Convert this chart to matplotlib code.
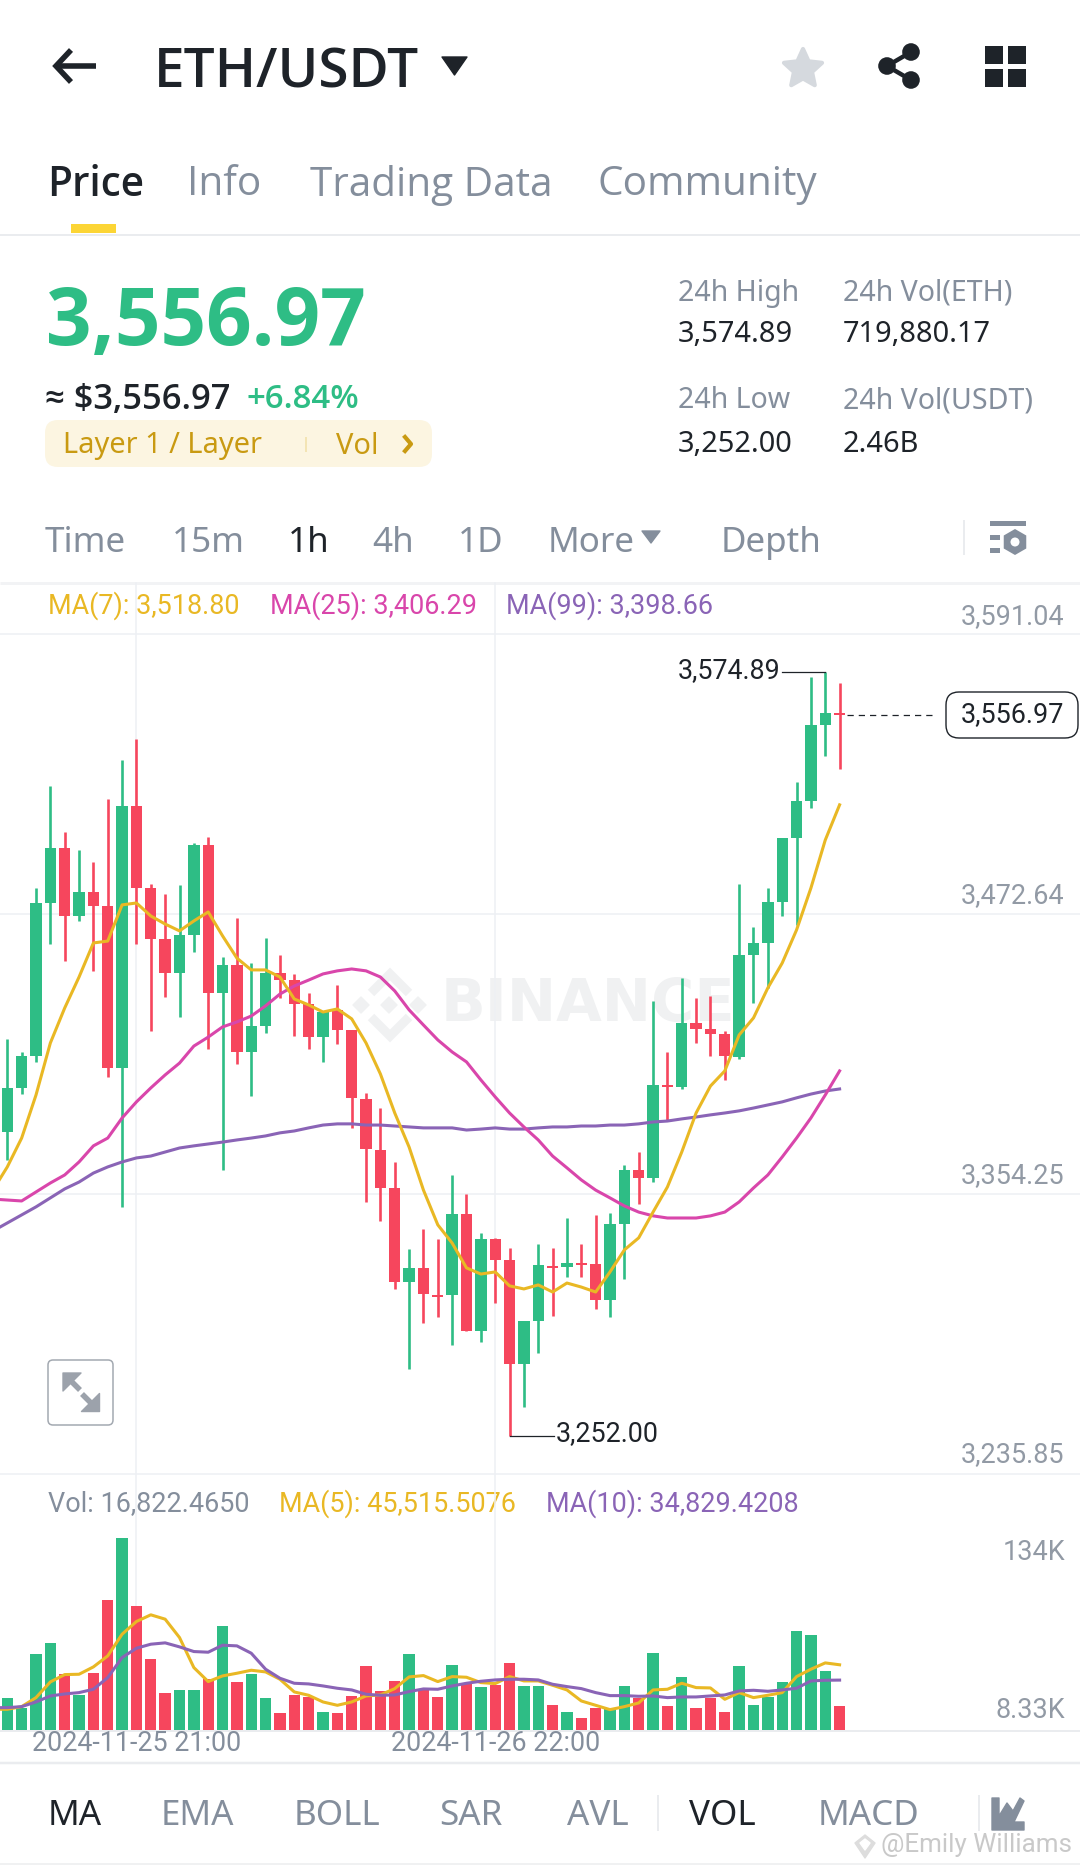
import numpy as np
import matplotlib
matplotlib.use("Agg")
import matplotlib.pyplot as plt
from matplotlib.patches import FancyBboxPatch, Circle, Polygon, Rectangle, RegularPolygon

# candles, one hour each
open_px = [3380.5, 3399.1, 3412.6, 3477.3, 3500.6, 3471.8, 3482.0, 3476.0, 3407.5, 3518.3,
           3483.6, 3462.1, 3447.7, 3463.8, 3501.8, 3439.2, 3451.1, 3414.3, 3425.3, 3447.7,
           3444.7, 3434.6, 3420.6, 3432.1, 3423.6, 3394.4, 3372.9, 3356.8, 3317.1, 3323.0,
           3311.6, 3311.6, 3345.8, 3296.3, 3335.2, 3326.4, 3282.4, 3300.6, 3323.8, 3323.4,
           3325.1, 3324.7, 3309.4, 3341.6, 3364.4, 3361.0, 3400.3, 3399.5, 3426.6, 3424.0,
           3421.9, 3412.2, 3455.3, 3460.4, 3477.7, 3504.8, 3520.4, 3552.6, 3557.6]
close_px = [3399.1, 3412.6, 3477.3, 3500.6, 3471.8, 3482.0, 3476.0, 3407.5, 3518.3, 3483.6,
            3462.1, 3447.7, 3463.8, 3501.8, 3439.2, 3451.1, 3414.3, 3425.3, 3447.7, 3444.7,
            3434.6, 3420.6, 3431.2, 3423.6, 3394.9, 3373.3, 3356.8, 3317.1, 3323.0, 3312.0,
            3310.7, 3345.8, 3296.3, 3335.2, 3326.4, 3282.4, 3300.6, 3324.2, 3323.0, 3325.1,
            3324.2, 3309.4, 3341.6, 3364.4, 3361.0, 3400.3, 3399.5, 3426.6, 3424.0, 3421.9,
            3412.6, 3455.3, 3460.4, 3477.7, 3504.8, 3520.4, 3552.6, 3557.6, 3556.97]
high_px = [3419.8, 3414.3, 3483.6, 3526.8, 3507.3, 3499.7, 3494.6, 3521.3, 3537.8, 3546.6,
           3485.3, 3481.1, 3484.9, 3502.7, 3505.2, 3454.5, 3471.0, 3451.9, 3462.5, 3455.3,
           3447.3, 3439.2, 3431.2, 3442.6, 3423.6, 3397.0, 3390.6, 3367.8, 3331.0, 3339.5,
           3335.2, 3362.3, 3354.3, 3337.8, 3335.7, 3331.4, 3300.6, 3333.1, 3331.4, 3344.1,
           3333.1, 3345.4, 3346.2, 3366.5, 3372.0, 3435.9, 3414.3, 3445.6, 3437.1, 3438.0,
           3423.2, 3485.3, 3467.2, 3483.6, 3504.8, 3528.5, 3572.9, 3574.89, 3570.3]
low_px = [3368.6, 3396.5, 3410.1, 3460.0, 3452.8, 3469.7, 3448.6, 3403.7, 3348.8, 3460.0,
          3423.2, 3437.6, 3429.1, 3456.6, 3415.6, 3364.4, 3409.2, 3395.7, 3422.3, 3437.1,
          3421.1, 3415.6, 3410.1, 3417.7, 3382.2, 3350.9, 3342.8, 3314.1, 3280.3, 3299.7,
          3302.3, 3290.4, 3296.3, 3291.7, 3308.2, 3252.0, 3264.2, 3287.0, 3302.7, 3319.2,
          3319.2, 3305.6, 3302.3, 3318.3, 3350.0, 3359.3, 3385.5, 3398.7, 3418.1, 3412.6,
          3402.5, 3411.3, 3435.0, 3441.4, 3471.8, 3468.0, 3517.5, 3539.5, 3534.0]

# moving averages start one candle before the first visible one
ma7 = [3355.9, 3365.7, 3377.9, 3396.1, 3418.1, 3432.9, 3446.0, 3460.4, 3461.2, 3476.5, 3477.3,
       3471.8, 3468.4, 3465.5, 3469.7, 3473.5, 3463.4, 3454.0, 3449.0, 3449.0, 3446.0,
       3436.7, 3434.2, 3431.2, 3432.5, 3428.3, 3418.1, 3405.0, 3388.5, 3374.1, 3355.9,
       3341.2, 3333.5, 3323.0, 3320.4, 3321.3, 3315.4, 3314.1, 3315.8, 3312.8, 3316.6,
       3314.9, 3312.8, 3321.3, 3330.6, 3335.7, 3346.6, 3357.2, 3372.0, 3388.5, 3399.9,
       3406.3, 3421.5, 3428.7, 3441.4, 3451.9, 3465.9, 3483.6, 3503.9, 3518.80]
ma25 = [3352.1, 3351.7, 3351.3, 3355.1, 3358.9, 3362.3, 3367.8, 3374.6, 3377.9, 3386.4, 3393.2,
        3399.1, 3404.6, 3409.6, 3416.8, 3420.6, 3424.9, 3427.0, 3429.5, 3433.8, 3438.8,
        3442.2, 3444.7, 3447.3, 3448.6, 3449.4, 3448.6, 3446.0, 3440.1, 3432.1, 3425.7,
        3419.4, 3414.3, 3410.1, 3402.5, 3395.3, 3388.5, 3382.6, 3377.1, 3370.3, 3365.3,
        3360.2, 3355.9, 3352.6, 3349.2, 3346.6, 3345.0, 3344.1, 3344.1, 3344.1, 3345.0,
        3346.6, 3350.9, 3356.8, 3362.3, 3369.9, 3377.9, 3386.4, 3396.1, 3406.29]
ma99 = [3338.6, 3342.0, 3345.4, 3348.8, 3352.6, 3356.4, 3359.3, 3363.1, 3365.7, 3367.8, 3369.5,
        3370.3, 3372.0, 3373.7, 3374.6, 3375.4, 3376.2, 3377.1, 3377.9, 3378.8, 3380.1,
        3380.9, 3382.2, 3383.4, 3383.9, 3383.9, 3383.4, 3383.4, 3383.0, 3382.6, 3382.2,
        3382.2, 3382.2, 3381.3, 3381.7, 3382.2, 3381.7, 3381.7, 3382.2, 3382.6, 3382.6,
        3383.0, 3383.0, 3383.4, 3383.4, 3383.9, 3384.7, 3385.1, 3386.0, 3386.8, 3387.7,
        3388.5, 3389.4, 3390.6, 3391.9, 3393.2, 3394.9, 3396.5, 3397.8, 3398.66]

volume = [22135, 15378, 52891, 61046, 39377, 24465, 40076, 90404, 134000, 86443,
          49629, 25863, 27960, 27727, 35416, 72929, 33319, 38911, 22601, 12116,
          24465, 23300, 12582, 12116, 23766, 44736, 27494, 34018, 53124, 28426,
          22834, 45668, 33086, 30057, 31455, 46600, 30756, 30756, 17708, 12815,
          8330, 15611, 14446, 30756, 22601, 53590, 17009, 37280, 15145, 22368,
          12815, 44503, 17242, 23067, 33319, 68968, 66172, 41474, 16822]
vol_ma5 = [14446, 14446, 16310, 22601, 33552, 38678, 38911, 44037, 51726, 66871, 75725,
           80385, 77356, 64541, 43571, 33785, 37746, 39610, 41707, 40542, 35416,
           26562, 24232, 19572, 17242, 19572, 23766, 24465, 28892, 37047, 37979,
           33785, 37280, 36814, 33086, 32387, 37280, 34251, 34251, 31222, 27960,
           20271, 17242, 14213, 16310, 18873, 27960, 28426, 32620, 29591, 29358,
           21436, 26096, 22601, 24232, 26096, 37280, 42406, 46833, 45515]
vol_ma10 = [15611, 15611, 16310, 19572, 23766, 25164, 26096, 28426, 36581, 50561, 57085,
            59881, 60813, 58017, 54755, 54289, 59182, 58716, 53590, 42406, 36115,
            32620, 32154, 30756, 29125, 27960, 24931, 24232, 24465, 26795, 28659,
            28426, 30756, 32620, 34018, 34950, 35416, 35416, 34950, 31921, 30290,
            28892, 26096, 23999, 23999, 23533, 23766, 22601, 23067, 23067, 23766,
            24465, 27261, 27727, 27028, 27960, 29125, 34251, 34717, 34829]

price_ticks = [3591.04, 3472.64, 3354.25, 3235.85]
price_tick_labels = ["3,591.04", "3,472.64", "3,354.25", "3,235.85"]
date_index = [9, 34]
date_labels = ["2024-11-25 21:00", "2024-11-26 22:00"]

tabs = ["Price", "Info", "Trading Data", "Community"]
times = ["Time", "15m", "1h", "4h", "1D", "More", "Depth"]
indicators = ["MA", "EMA", "BOLL", "SAR", "AVL", "VOL", "MACD"]

GREEN = "#2ebd85"
RED = "#f6465d"
DARK = "#1e2329"
GRAY = "#848e9c"
TICK = "#929aa5"
YELLOW = "#e9b824"
PINK = "#d946ab"
PURPLE = "#8a64b6"
GRID = "#eef0f4"
LINE = "#eaecef"
MARK = "#f0f1f2"
W = 1080
H = 1866


def pos(left, top, right, bottom):
    return [left / W, 1 - bottom / H, (right - left) / W, (bottom - top) / H]


def put(x, y, s, px, color, ha="left", weight="normal", family="Roboto", zorder=5):
    return ui.text(x, y, s, fontsize=px * 0.72, color=color, ha=ha, va="center",
                   fontweight=weight, family=family, zorder=zorder)


def hline(y, x0=0, x1=W, color=LINE, px=2.0):
    ui.plot([x0, x1], [y, y], color=color, lw=px * 0.72, solid_capstyle="butt")


def vline(x, y0, y1, color=LINE, px=2.0):
    ui.plot([x, x], [y0, y1], color=color, lw=px * 0.72, solid_capstyle="butt")


def poly(points, color, zorder=3, lw=1):
    ui.add_patch(Polygon(points, closed=True, fc=color, ec=color, lw=lw, joinstyle="round", zorder=zorder))


def round_box(x0, y0, x1, y1, r, fc, ec="none", lw=0.0, zorder=2):
    ui.add_patch(FancyBboxPatch((x0 + r, y0 + r), x1 - x0 - 2 * r, y1 - y0 - 2 * r,
                                boxstyle=f"round,pad={r},rounding_size={r}",
                                fc=fc, ec=ec, lw=lw, zorder=zorder))


fig = plt.figure(figsize=(W / 100, H / 100), dpi=100, facecolor="white")

# background layer in screen pixels, charts sit on top of it
ui = fig.add_axes([0, 0, 1, 1], zorder=0)
ui.set_xlim(0, W)
ui.set_ylim(H, 0)
ui.axis("off")

# --- header ---
ui.plot([55, 96], [66, 66], color=DARK, lw=4, solid_capstyle="butt")
ui.plot([71, 56, 71], [50, 66, 82], color=DARK, lw=4, solid_joinstyle="miter", solid_capstyle="butt")
put(154, 73, "ETH/USDT", 55, DARK, weight="semibold", family="Open Sans")
poly([(442, 57), (467, 57), (454.5, 75)], DARK)

star_r = [20, 9.5] * 5
star_a = np.radians(np.arange(0, 360, 36) - 90)
poly([(803 + r * np.cos(a), 69 + r * np.sin(a)) for r, a in zip(star_r, star_a)], "#d5d9de", lw=3)

ui.plot([911, 887, 911], [52, 66, 80], color=DARK, lw=3.2, zorder=3)
for cx, cy in [(911, 52), (887, 66), (911, 80)]:
    ui.add_patch(Circle((cx, cy), 8.8, fc=DARK, ec="none", zorder=3))
for x0, y0 in [(985, 46), (1008, 46), (985, 69), (1008, 69)]:
    ui.add_patch(Rectangle((x0, y0), 17.5, 17.5, fc=DARK, ec="none"))

# --- tabs ---
tab_x = [47, 187, 310, 598]
for i in range(len(tabs)):
    put(tab_x[i], 185, tabs[i], 40.5, DARK if i == 0 else GRAY, family="Open Sans", weight="semibold" if i == 0 else "medium")
hline(235)
ui.add_patch(Rectangle((71, 224), 45, 9, fc="#fcd535", ec="none", zorder=3))

# --- price block ---
put(46, 324, "3,556.97", 80, GREEN, weight="bold", family="Open Sans")
put(45, 400, "≈ $3,556.97", 34.5, DARK, weight="semibold", family=["Open Sans", "DejaVu Sans"])
put(246, 400, "+6.84%", 33, GREEN, weight="semibold", family="Open Sans")
round_box(45, 420, 432, 467, 13, "#fcf5e1")
put(63, 446, "Layer 1 / Layer", 29, "#c99a12", family="Noto Sans")
vline(306, 437, 452, color="#f3e4b4", px=2)
put(336, 446, "Vol", 29, "#c99a12", family="Noto Sans")
ui.plot([405, 411, 405], [437, 444, 451], color="#c99a12", lw=3, zorder=3)

stat_x = [678, 843]
stat_head = [["24h High", "24h Vol(ETH)"], ["24h Low", "24h Vol(USDT)"]]
stat_vals = [["3,574.89", "719,880.17"], ["3,252.00", "2.46B"]]
stat_y = [(293, 335), (401, 444)]
for r in range(2):
    for c in range(2):
        put(stat_x[c], stat_y[r][0], stat_head[r][c], 28.5, GRAY, family="Noto Sans")
        put(stat_x[c], stat_y[r][1], stat_vals[r][c], 29, DARK, family="Noto Sans")

# --- interval row ---
time_x = [45, 172, 288, 372, 458, 548, 721]
for i in range(len(times)):
    put(time_x[i], 543, times[i], 35, DARK if times[i] == "1h" else GRAY, family="Noto Sans", weight="medium" if times[i] == "1h" else "normal")
poly([(642, 531), (660, 531), (651, 543)], GRAY)
vline(964, 520, 555)
ui.add_patch(Rectangle((990, 521), 36, 5, fc=GRAY, ec="none"))
ui.add_patch(Rectangle((990, 535), 10, 5, fc=GRAY, ec="none"))
ui.add_patch(Rectangle((990, 548), 10, 5, fc=GRAY, ec="none"))
ui.add_patch(RegularPolygon((1015, 542), 6, radius=13, fc=GRAY, ec="none", zorder=3))
ui.add_patch(Circle((1015, 542), 4.5, fc="white", ec="none", zorder=4))
hline(583, color="#f2f3f5", px=3)

# --- moving average legends ---
put(48, 606, "MA(7): 3,518.80", 27, YELLOW)
put(270, 606, "MA(25): 3,406.29", 27, PINK)
put(506, 606, "MA(99): 3,398.66", 27, PURPLE)
put(48, 1504, "Vol: 16,822.4650", 27, GRAY)
put(279, 1504, "MA(5): 45,515.5076", 27, YELLOW)
put(546, 1504, "MA(10): 34,829.4208", 27, PURPLE)

# --- watermark behind the candles ---
for dx, dy in [(361, 1005), (389, 1005), (418, 1005)]:
    poly([(dx - 8, dy), (dx, dy - 8), (dx + 8, dy), (dx, dy + 8)], MARK, zorder=1)
ui.plot([371, 390, 409], [993, 974, 993], color=MARK, lw=6.5, solid_joinstyle="miter", solid_capstyle="butt", zorder=1)
ui.plot([371, 390, 409], [1017, 1036, 1017], color=MARK, lw=6.5, solid_joinstyle="miter", solid_capstyle="butt", zorder=1)
put(441, 1005, "BINANCE", 59, MARK, weight="bold", family="DejaVu Sans", zorder=1)

# --- price chart ---
PLOT_L, PLOT_STEP = 7.3, 14.35
xlim = (-PLOT_L / PLOT_STEP, (W - PLOT_L) / PLOT_STEP)
idx = np.arange(len(open_px))
idx_ma = np.arange(-1, len(open_px))
is_up = np.array(close_px) >= np.array(open_px)
colors = [GREEN if u else RED for u in is_up]

ax = fig.add_axes(pos(0, 634, W, 1474), zorder=1)
ax.patch.set_visible(False)
ax.set_xlim(*xlim)
ax.set_ylim(price_ticks[-1], price_ticks[0])
ax.axis("off")
for t in price_ticks:
    ax.axhline(t, color=GRID, lw=1.1, zorder=1, clip_on=False)
for d in date_index:
    ax.axvline(d, ymin=0, ymax=1.061, color=GRID, lw=1.1, zorder=1, clip_on=False)

body_low = np.minimum(open_px, close_px)
body_size = np.abs(np.array(close_px) - np.array(open_px))
ax.vlines(idx, low_px, high_px, colors=colors, lw=1.9, zorder=2)
ax.bar(idx, body_size, bottom=body_low, width=0.79, color=colors, lw=0, zorder=3)
ax.plot(idx_ma, ma99, color=PURPLE, lw=2.2, zorder=4)
ax.plot(idx_ma, ma25, color=PINK, lw=2.2, zorder=5)
ax.plot(idx_ma, ma7, color=YELLOW, lw=2.2, zorder=6)

for t, lab, y in zip(price_ticks, price_tick_labels, [617, 896, 1176, 1455]):
    put(1064, y, lab, 27, TICK, ha="right")

# high, low and last price markers
hi_i = int(np.argmax(high_px))
lo_i = int(np.argmin(low_px))
ax.plot([hi_i - 3.0, hi_i], [high_px[hi_i], high_px[hi_i]], color=DARK, lw=0.9, zorder=7)
ax.plot([lo_i, lo_i + 3.1], [low_px[lo_i], low_px[lo_i]], color=DARK, lw=0.9, zorder=7)
ax.annotate("3,574.89", (hi_i - 3.1, high_px[hi_i]), xytext=(0, 1.5), textcoords="offset points",
            ha="right", va="center", fontsize=19.4, family="Roboto", color=DARK, zorder=8)
ax.annotate("3,252.00", (lo_i + 3.2, low_px[lo_i]), xytext=(0, 1.5), textcoords="offset points",
            ha="left", va="center", fontsize=19.4, family="Roboto", color=DARK, zorder=8)
ax.plot([len(idx) - 0.5, 64.8], [close_px[-1], close_px[-1]], color=DARK, lw=0.9,
        dashes=(5, 4), zorder=7)
round_box(946, 692, 1078, 738, 13, "white", ec=DARK, lw=1.0, zorder=2)
put(1012, 715, "3,556.97", 27, DARK, ha="center")

# expand button
round_box(48, 1360, 113, 1425, 5, "white", ec="#a3a9b1", lw=1.1, zorder=2)
poly([(63, 1373), (81, 1373), (63, 1391)], "#9ca2ab")
poly([(99, 1393), (99, 1411), (81, 1411)], "#9ca2ab")
ui.plot([71, 80], [1381, 1390], color="#9ca2ab", lw=4, solid_capstyle="butt", zorder=3)
ui.plot([82, 91], [1394, 1403], color="#9ca2ab", lw=4, solid_capstyle="butt", zorder=3)

# --- volume chart ---
ax_vol = fig.add_axes(pos(0, 1538, W, 1730), zorder=1)
ax_vol.patch.set_visible(False)
ax_vol.set_xlim(*xlim)
ax_vol.set_ylim(0, 134000)
ax_vol.axis("off")
for d in date_index:
    ax_vol.axvline(d, ymin=0, ymax=1.33, color=GRID, lw=1.1, zorder=1, clip_on=False)
ax_vol.bar(idx, volume, width=0.79, color=colors, lw=0, zorder=2)
ax_vol.plot(idx_ma, vol_ma5, color=YELLOW, lw=2.2, zorder=3)
ax_vol.plot(idx_ma, vol_ma10, color=PURPLE, lw=2.2, zorder=4)
put(1065, 1552, "134K", 27, TICK, ha="right")
put(1065, 1711, "8.33K", 27, TICK, ha="right")
hline(1731)
for d, lab in zip(date_index, date_labels):
    ax_vol.annotate(lab, (d, 0), xytext=(0, -10), textcoords="offset points", ha="center",
                    va="center", fontsize=19.4, family="Roboto", color=GRAY, annotation_clip=False)
hline(1763, px=2.5)

# --- indicator row ---
ind_x = [48, 161, 294, 439, 567, 689, 818]
for i in range(len(indicators)):
    active = indicators[i] in ("MA", "VOL")
    put(ind_x[i], 1816, indicators[i], 35, DARK if active else GRAY, family="Noto Sans", weight="medium" if active else "normal")
vline(658, 1795, 1831)
vline(979, 1795, 1831)
poly([(992, 1798), (999, 1798), (999, 1816), (1007, 1803), (1013, 1811), (1020, 1798), (1024, 1801),
      (1014, 1822), (1024, 1822), (1024, 1830), (992, 1830)], GRAY)
hline(1864, color="#f0f1f2", px=2)

# author tag at the bottom
poly([(855, 1843), (865, 1835), (875, 1843), (865, 1858)], "#dddddd")
poly([(860, 1843), (865, 1839), (870, 1843), (865, 1850)], "white", zorder=4)
put(881, 1845, "@Emily Williams", 26, "#c9c9c9", family="Roboto")

fig.savefig("out.png", dpi=100, facecolor="white")
